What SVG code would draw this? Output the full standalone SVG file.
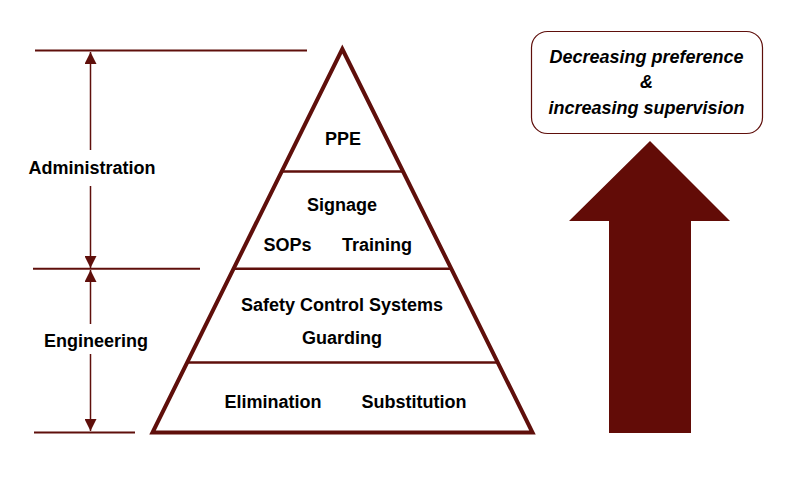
<svg xmlns="http://www.w3.org/2000/svg" width="796" height="489" viewBox="0 0 796 489">
<style>
text{font-family:"Liberation Sans",Arial,sans-serif;font-weight:bold;font-size:18px;fill:#000;text-anchor:middle}
.it{font-style:italic}
.ln{stroke:#5f0f0b;fill:none}
</style>
<defs>
<marker id="ah" viewBox="0 0 12 12" refX="12" refY="6" markerWidth="12" markerHeight="12" markerUnits="userSpaceOnUse" orient="auto">
<path d="M0,0 L12,6 L0,12 Z" fill="#5f0f0b"/>
</marker>
</defs>
<rect width="796" height="489" fill="#fff"/>
<g id="connectors">
<line class="ln" x1="35" y1="50.5" x2="307" y2="50.5" stroke-width="2"/>
<line class="ln" x1="33" y1="268.8" x2="200" y2="268.8" stroke-width="2"/>
<line class="ln" x1="34" y1="432.5" x2="135" y2="432.5" stroke-width="2"/>
<line class="ln" x1="90.5" y1="150" x2="90.5" y2="52" stroke-width="1.5" marker-end="url(#ah)"/>
<line class="ln" x1="90.5" y1="186" x2="90.5" y2="268" stroke-width="1.5" marker-end="url(#ah)"/>
<line class="ln" x1="90.5" y1="324" x2="90.5" y2="270" stroke-width="1.5" marker-end="url(#ah)"/>
<line class="ln" x1="90.5" y1="354" x2="90.5" y2="431" stroke-width="1.5" marker-end="url(#ah)"/>
</g>
<g id="administration"><text x="92" y="174">Administration</text></g>
<g id="engineering"><text x="96" y="347">Engineering</text></g>
<g id="pyramid">
<polygon class="ln" points="342.3,49 532.5,432.5 152.5,432.5" stroke-width="4" stroke-linejoin="miter"/>
<line class="ln" x1="283" y1="171.5" x2="402" y2="171.5" stroke-width="2.5"/>
<line class="ln" x1="234" y1="268.8" x2="450" y2="268.8" stroke-width="2.5"/>
<line class="ln" x1="188" y1="362.5" x2="497" y2="362.5" stroke-width="2.5"/>
</g>
<g id="ppe"><text x="343" y="145">PPE</text></g>
<g id="signage"><text x="342" y="211">Signage</text></g>
<g id="sops"><text x="287.5" y="251">SOPs</text></g>
<g id="training"><text x="377" y="251">Training</text></g>
<g id="safety-control"><text x="342" y="311">Safety Control Systems</text></g>
<g id="guarding"><text x="342" y="344">Guarding</text></g>
<g id="elimination"><text x="273" y="408">Elimination</text></g>
<g id="substitution"><text x="414" y="408">Substitution</text></g>
<g id="preference-box">
<rect x="531.5" y="31.5" width="231" height="102" rx="16" ry="16" fill="#fff" stroke="#5f0f0b" stroke-width="1.2"/>
<text class="it" x="646.5" y="63">Decreasing preference</text>
<text class="it" x="646.5" y="88">&amp;</text>
<text class="it" x="646.5" y="114">increasing supervision</text>
</g>
<g id="big-arrow">
<polygon points="650,141 730,221 691,221 691,433 609,433 609,221 569,221" fill="#620c07"/>
</g>
</svg>
